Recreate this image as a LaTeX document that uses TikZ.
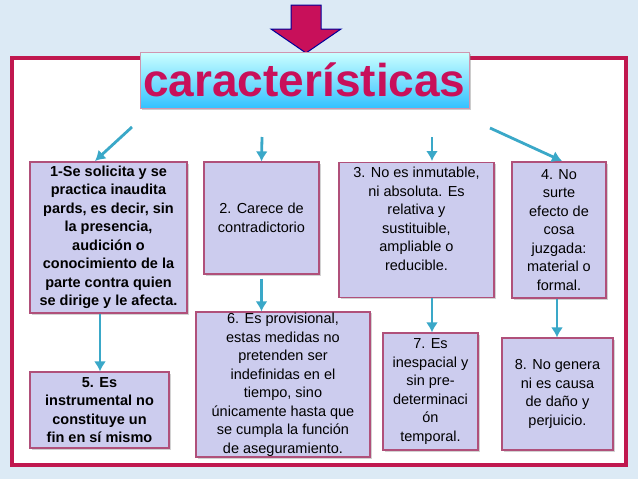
\documentclass[tikz,border=0pt]{standalone}
\usepackage{fontspec}
\setmainfont{Liberation Sans}
\usetikzlibrary{shadows,arrows.meta}
\definecolor{bgc}{HTML}{DCEAF5}
\definecolor{frm}{HTML}{C0184F}
\definecolor{lav}{HTML}{CCCCEE}
\definecolor{bdr}{HTML}{B0507A}
\definecolor{arr}{HTML}{3AA8C8}
\definecolor{ttl}{HTML}{C8105A}
\tikzset{
 box/.style={draw=bdr,line width=1.2pt,fill=lav,align=center,inner sep=1pt,font=\fontsize{14.5}{18.5}\selectfont,drop shadow={opacity=0.35,shadow xshift=1.5pt,shadow yshift=-1.5pt}},
 bbox/.style={box,font=\fontsize{14.5}{18.5}\selectfont\bfseries},
 ar/.style={draw=arr,line width=2.8pt,-{Latex[length=10pt,width=12pt]}},
}
\begin{document}
\begin{tikzpicture}[x=1pt,y=-1pt]
\fill[bgc] (0,0) rectangle (638,479);
\draw[frm,line width=4pt,fill=white] (12,58) rectangle (626,465);
% top arrow
\fill[ttl,draw=blue!60!black,line width=1pt] (291,5) -- (321,5) -- (321,29) -- (341,29) -- (306,53) -- (271,29) -- (291,29) -- cycle;
% title
\node[draw=bdr!60,line width=0.8pt,top color=cyan!20,bottom color=cyan!70!blue!80,minimum width=323pt,minimum height=56pt,drop shadow={opacity=0.4,shadow xshift=2pt,shadow yshift=-2pt},font=\fontsize{46}{46}\selectfont\bfseries,text=ttl] (t) at (304.5,80) {características};
\coordinate (a1) at (132,127); \coordinate (a2) at (262,137);
\coordinate (a3) at (432,137); \coordinate (a4) at (490,128);
% boxes
\node[bbox,minimum width=157pt,minimum height=151pt] (b1) at (108.5,237.5) {1-Se solicita y se\\practica inaudita\\pards, es decir, sin\\la presencia,\\audición o\\conocimiento de la\\parte contra quien\\se dirige y le afecta.};
\node[box,minimum width=115pt,minimum height=112pt] (b2) at (261.5,218) {2. Carece de\\contradictorio};
\node[box,minimum width=155pt,minimum height=130pt,anchor=north] (b3) at (416.5,162) {\rule{0pt}{14pt}3. No es inmutable,\\ni absoluta. Es\\relativa y\\sustituible,\\ampliable o\\reducible.\\[8pt]};
\node[box,minimum width=94pt,minimum height=136pt] (b4) at (559,230) {4. No\\surte\\efecto de\\cosa\\juzgada:\\material o\\formal.};
\node[bbox,minimum width=139pt,minimum height=76pt] (b5) at (99.5,410) {5. Es\\instrumental no\\constituye un\\fin en sí mismo};
\node[box,minimum width=174pt,minimum height=141pt] (b6) at (283,384.5) {6. Es provisional,\\estas medidas no\\pretenden ser\\indefinidas en el\\tiempo, sino\\únicamente hasta que\\se cumpla la función\\de aseguramiento.};
\node[box,minimum width=95pt,minimum height=117pt] (b7) at (430.5,391.5) {7. Es\\inespacial y\\sin pre-\\determinaci\\ón\\temporal.};
\node[box,minimum width=111pt,minimum height=112pt] (b8) at (557.5,394) {8. No genera\\ni es causa\\de daño y\\perjuicio.};
% arrows
\draw[ar] (a1) -- (95,161);
\draw[ar] (a2) -- (b2.north);
\draw[ar] (a3) -- (432,161);
\draw[ar] (a4) -- (562,161);
\draw[ar] (b1.south -| 100,0) -- (b5.north -| 100,0);
\draw[ar] (b2.south) ++(0,4) -- (b6.north -| b2);
\draw[ar] (b3.south -| 432,0) -- (b7.north -| 432,0);
\draw[ar] (b4.south -| 557,0) -- (b8.north -| 557,0);
\end{tikzpicture}
\end{document}
